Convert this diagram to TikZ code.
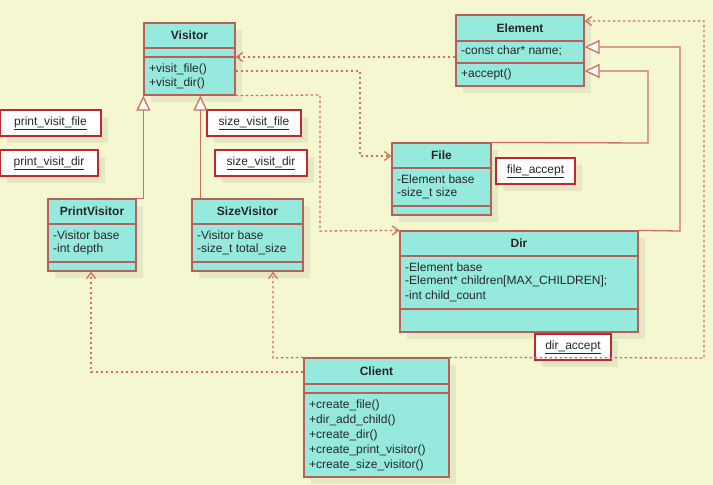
\documentclass[tikz,border=0pt]{standalone}
\usepackage{fontspec}
\setmainfont{Liberation Sans}
\usetikzlibrary{arrows.meta}
\definecolor{bg}{HTML}{F4F7D0}
\definecolor{fillc}{HTML}{96EADD}
\definecolor{bord}{HTML}{B8605A}
\definecolor{linec}{HTML}{CC7060}
\definecolor{shad}{HTML}{E4E8C4}
\definecolor{lblb}{HTML}{C0282D}
\tikzset{
  txt/.style={inner sep=0pt,anchor=west,font=\fontsize{12}{14}\selectfont,text=black!85},
  ttl/.style={inner sep=0pt,font=\bfseries\fontsize{12}{14}\selectfont,text=black!85},
  inh/.style={draw=linec,line width=1.3pt,-{Triangle[open,length=15pt,width=14pt,fill=white]}},
  dep/.style={draw=linec,line width=1.3pt,dash pattern=on 2.5pt off 2.5pt,-{Straight Barb[length=6pt,width=9pt]}},
  lbl/.style={draw=lblb,line width=1.2pt,fill=white,inner sep=0pt,font=\fontsize{12}{14}\selectfont,text=black!85},
}
\newcommand{\cls}[5]{% name, x1,y1,x2,y2
  \fill[shad] (#2+7,#3+7) rectangle (#4+7,#5+7);
  \node[draw=bord,line width=1.2pt,fill=fillc,inner sep=0pt,minimum width={(#4-#2)*1pt},minimum height={(#5-#3)*1pt}] (#1) at ({(#2+#4)/2},{(#3+#5)/2}) {};}
\newcommand{\sep}[3]{\draw[bord,line width=1.2pt] (#1,#3) -- (#2,#3);}
\newcommand{\lab}[6]{% name,x1,y1,x2,y2,text
  \fill[shad] (#2+7,#3+7) rectangle (#4+7,#5+7);
  \node[lbl,minimum width={(#4-#2)*1pt},minimum height={(#5-#3)*1pt}] (#1) at ({(#2+#4)/2},{(#3+#5)/2}) {\underline{#6}};}
\begin{document}
\begin{tikzpicture}[x=1pt,y=-1pt]
\fill[bg] (0,0) rectangle (713,485);
\useasboundingbox (0,0) rectangle (713,485);
% classes
\cls{visitor}{144}{23}{235}{95}\sep{144}{235}{48}\sep{144}{235}{57}
\node[ttl] at (189.5,35.5) {Visitor};
\node[txt] at (149,69) {+visit\_file()};
\node[txt] at (149,83) {+visit\_dir()};
\cls{pv}{48}{199}{136}{271}\sep{48}{136}{224}\sep{48}{136}{262}
\node[ttl] at (92,211.5) {PrintVisitor};
\node[txt] at (53,235) {-Visitor base};
\node[txt] at (53,249) {-int depth};
\cls{sv}{192}{199}{303}{271}\sep{192}{303}{224}\sep{192}{303}{262}
\node[ttl] at (247.5,211.5) {SizeVisitor};
\node[txt] at (197,235) {-Visitor base};
\node[txt] at (197,249) {-size\_t total\_size};
\cls{element}{456}{15}{584}{86}\sep{456}{584}{41}\sep{456}{584}{63}
\node[ttl] at (520,28) {Element};
\node[txt] at (461,51) {-const char* name;};
\node[txt] at (461,74) {+accept()};
\cls{file}{392}{143}{491}{215}\sep{392}{491}{168}\sep{392}{491}{206}
\node[ttl] at (441.5,155.5) {File};
\node[txt] at (397,179) {-Element base};
\node[txt] at (397,193) {-size\_t size};
\cls{dir}{400}{231}{638}{332}\sep{400}{638}{256}\sep{400}{638}{309}
\node[ttl] at (519,243.5) {Dir};
\node[txt] at (405,267) {-Element base};
\node[txt] at (405,281) {-Element* children[MAX\_CHILDREN];};
\node[txt] at (405,296) {-int child\_count};
\cls{client}{304}{358}{449}{477}\sep{304}{449}{384}\sep{304}{449}{393}
\node[ttl] at (376.5,371) {Client};
\node[txt] at (309,405) {+create\_file()};
\node[txt] at (309,420) {+dir\_add\_child()};
\node[txt] at (309,435) {+create\_dir()};
\node[txt] at (309,450) {+create\_print\_visitor()};
\node[txt] at (309,465) {+create\_size\_visitor()};
% labels
\lab{pvf}{0}{110}{101}{136}{print\_visit\_file}
\lab{pvd}{0}{150}{98}{176}{print\_visit\_dir}
\lab{svf}{207}{110}{301}{136}{size\_visit\_file}
\lab{svd}{215}{150}{307}{176}{size\_visit\_dir}
\lab{fa}{496}{158}{575}{184}{file\_accept}
\lab{da}{535}{334}{611}{360}{dir\_accept}
% inheritance
\draw[inh] (pv.north east) -- (pv.north east -| visitor.south west) -- (visitor.south west);
\draw[inh] (sv.north west) ++(9,0) coordinate (svt) -- (svt |- visitor.south);
\draw[inh] (file.north east) -- (648,143) -- (648,71) -- (element.east |- 0,71);
\draw[inh] (dir.north east) -- (680,231) -- (680,47) -- (element.east |- 0,47);
% dependencies
\draw[dep] (element.west |- 0,57) -- (visitor.east |- 0,57);
\draw[dep] (visitor.east |- 0,71) -- (360,71) -- (360,156) -- (file.west |- 0,156);
\draw[dep] (visitor.south east) -- (320,95) -- (320,231) -- (dir.north west);
\draw[dep] (client.west |- 0,372) -- (91,372) -- (pv.south -| 91,0);
\draw[dep] (client.north west) -- (273,358) -- (sv.south -| 273,0);
\draw[dep] (client.north east) -- (704,358) -- (704,21) -- (element.east |- 0,21);
\end{tikzpicture}
\end{document}
